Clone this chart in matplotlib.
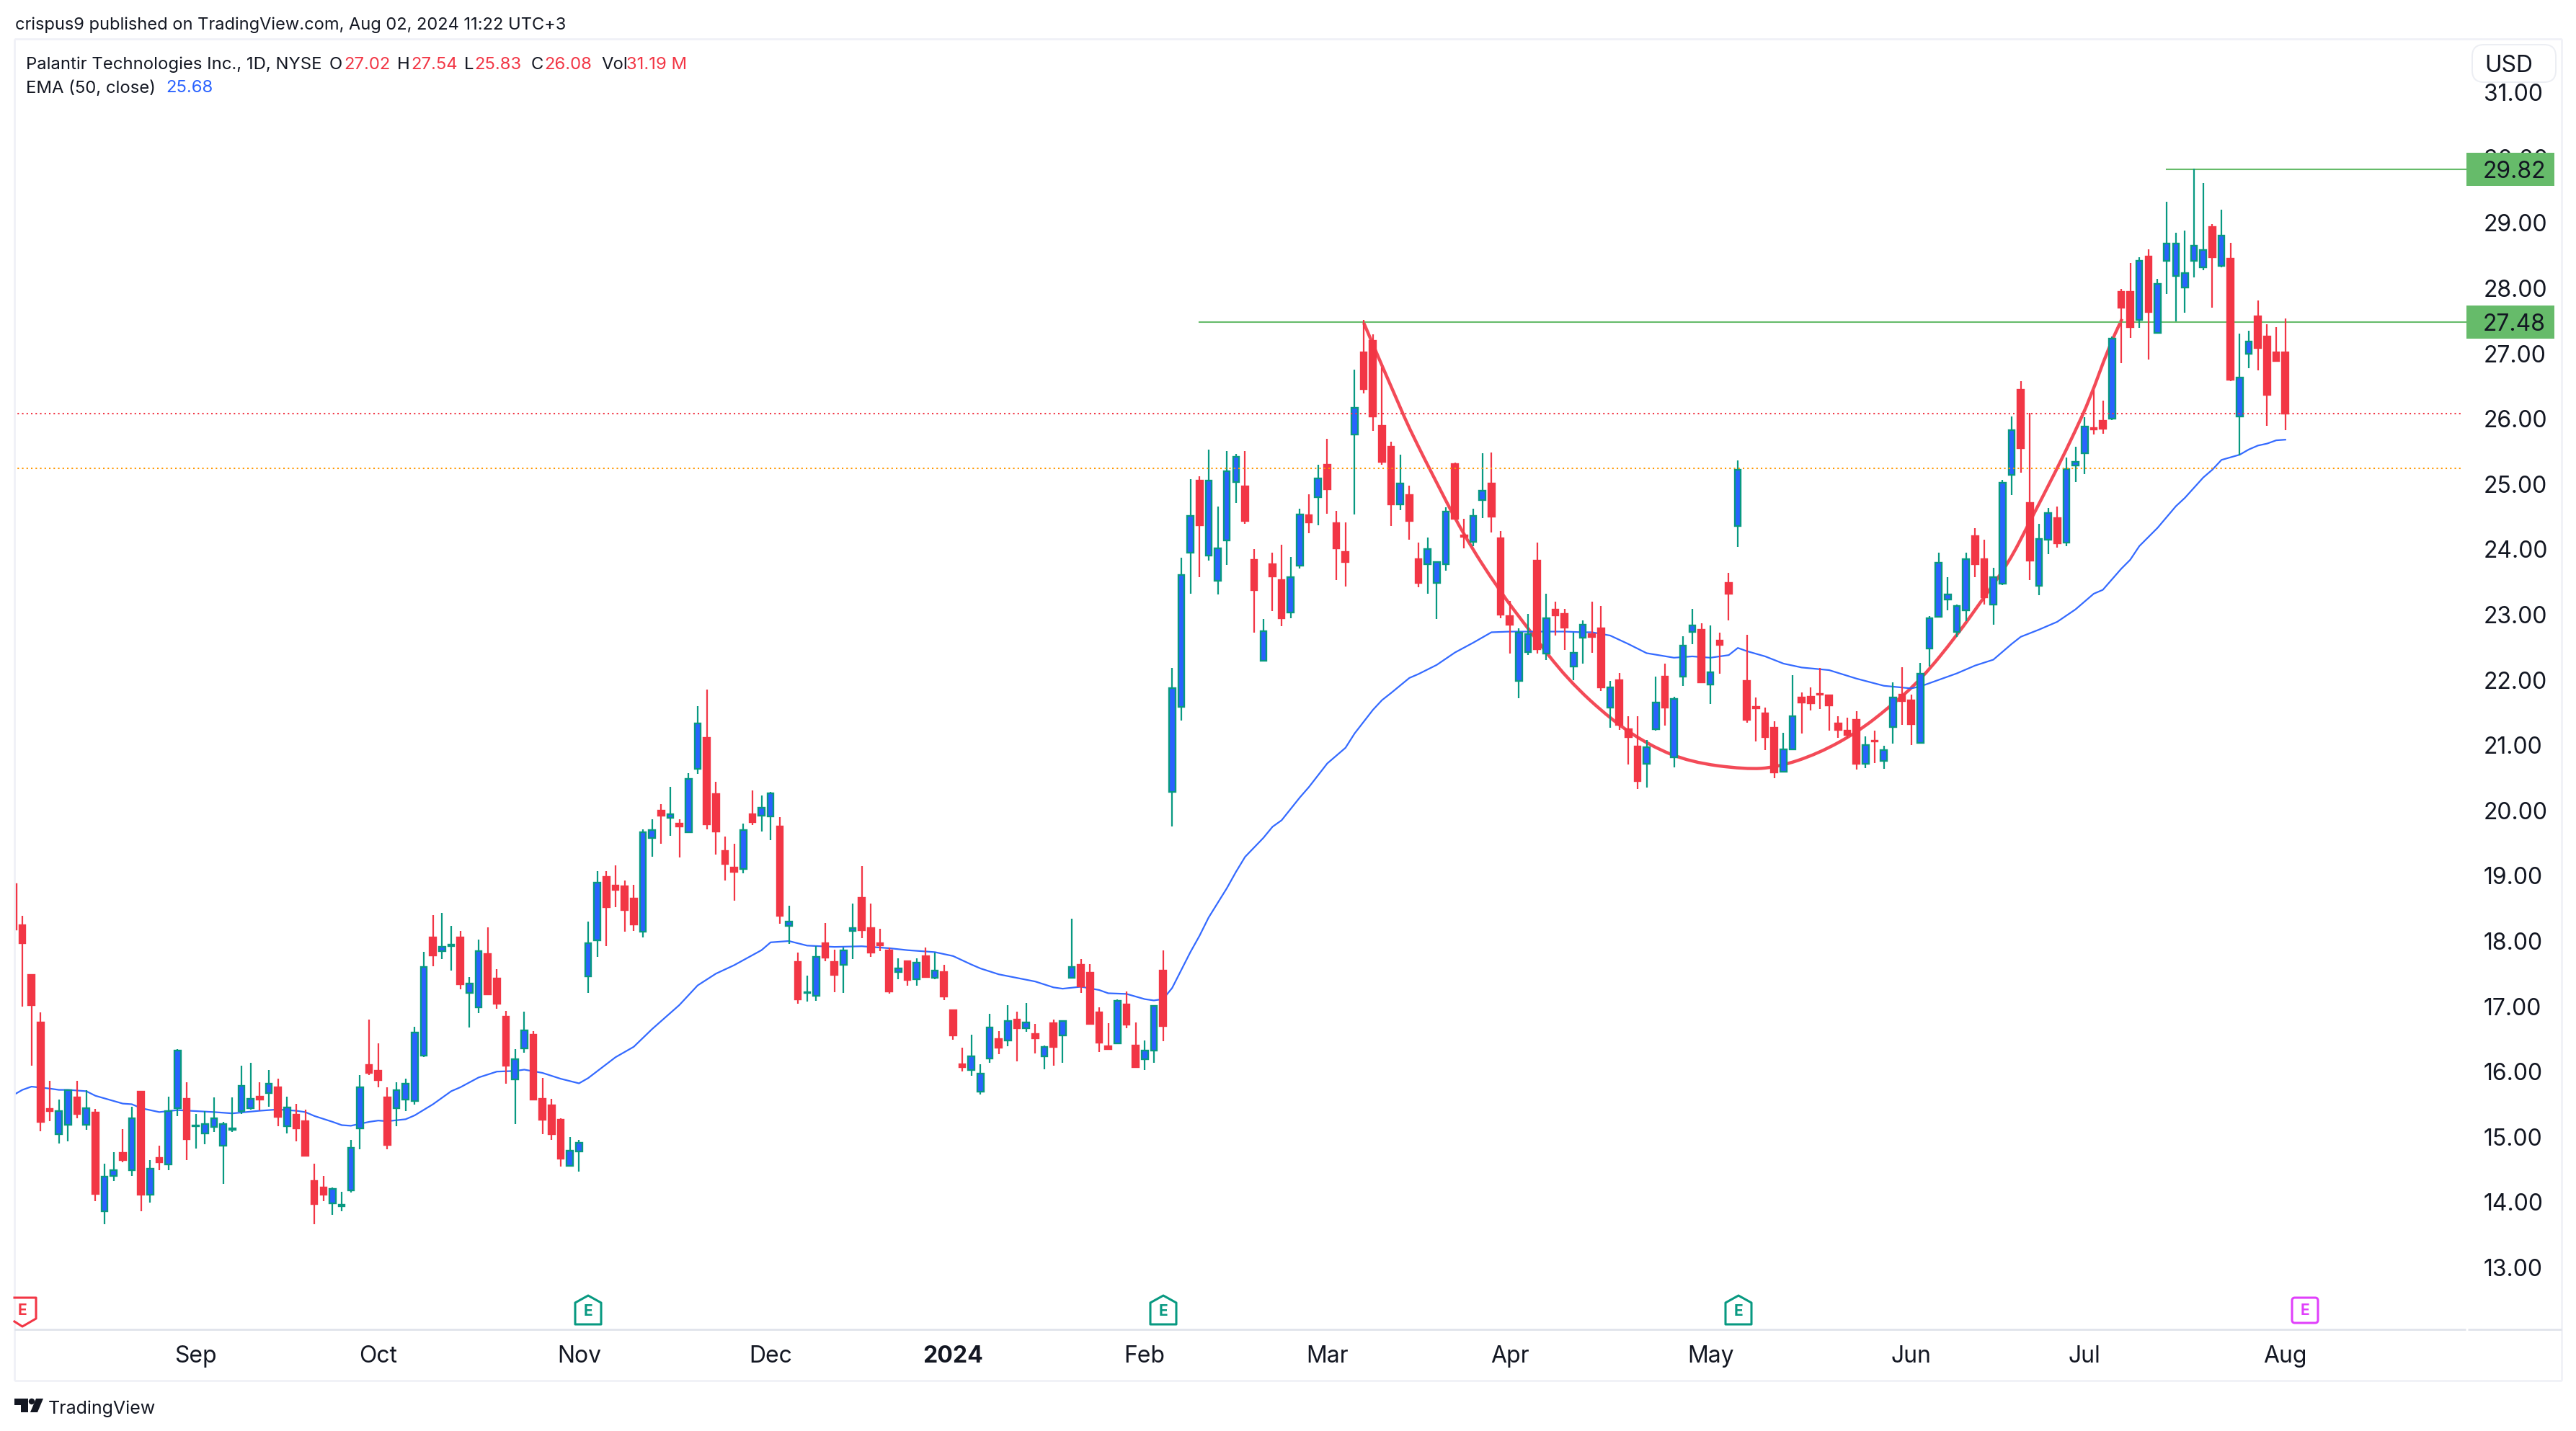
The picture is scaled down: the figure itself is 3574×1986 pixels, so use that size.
import numpy as np
import matplotlib
matplotlib.use('Agg')
import matplotlib.pyplot as plt
from matplotlib.patches import FancyBboxPatch, Polygon, Rectangle, Circle, PathPatch
from matplotlib.path import Path

plt.rcParams['font.family'] = ['Inter', 'DejaVu Sans']

# daily candles
opens = [18.87,18.24,17.48,16.75,15.43,15.04,15.18,15.60,15.19,15.37,
         13.86,14.40,14.75,14.49,15.69,14.12,14.68,14.58,15.44,15.58,
         15.16,15.05,15.15,14.86,15.11,15.39,15.44,15.62,15.67,15.76,
         15.16,15.34,15.24,14.32,14.22,13.98,13.94,14.18,15.13,16.10,
         16.01,15.60,15.44,15.57,15.55,16.25,18.05,17.85,17.92,18.05,
         17.20,16.99,17.80,17.43,16.84,15.88,16.36,16.57,15.58,15.48,
         15.26,14.56,14.78,17.46,18.01,18.98,18.85,18.84,18.65,18.14,
         19.58,20.00,19.89,19.80,19.67,20.64,21.11,20.25,19.38,19.13,
         19.10,19.94,19.92,19.91,19.75,18.23,17.68,17.20,17.16,17.97,
         17.68,17.64,18.16,18.66,18.20,17.97,17.86,17.52,17.69,17.42,
         17.77,17.44,17.52,16.94,16.11,16.02,15.69,16.20,16.50,16.48,
         16.80,16.66,16.58,16.23,16.74,16.55,17.44,17.64,17.51,16.91,
         16.39,16.43,17.03,16.40,16.19,16.32,17.55,20.29,21.59,23.95,
         25.05,23.91,23.52,24.14,25.03,24.97,23.84,22.29,23.77,23.53,
         23.03,23.75,24.52,24.80,25.30,24.40,23.96,25.76,27.02,27.19,
         25.89,25.57,24.69,24.83,23.85,23.77,23.49,23.77,25.31,24.21,
         24.12,24.76,25.01,24.17,22.98,21.98,22.43,23.83,22.40,23.08,
         23.01,22.21,22.65,22.70,22.79,21.58,22.00,21.24,20.98,20.71,
         21.24,22.05,20.82,22.05,22.74,22.77,21.93,22.60,23.49,24.36,
         21.98,21.59,21.49,21.27,20.59,20.94,21.73,21.74,21.79,21.76,
         21.33,21.22,21.39,20.71,21.07,20.76,21.28,21.78,21.69,21.04,
         22.48,22.97,23.23,22.74,23.07,24.20,23.85,23.15,23.47,25.14,
         26.44,24.71,23.44,24.15,24.48,24.10,25.28,25.47,25.86,25.97,
         26.00,27.94,27.94,27.51,28.49,27.32,28.42,28.19,28.01,28.42,
         28.32,28.94,28.34,28.45,26.04,27.00,27.57,27.26,27.02,27.02]
highs = [18.87,18.39,17.48,16.91,15.86,15.57,15.72,15.86,15.72,15.43,
         14.59,14.77,15.12,15.46,15.69,14.64,14.87,15.62,16.34,15.84,
         15.35,15.40,15.61,15.23,15.60,16.09,16.14,15.84,16.02,15.89,
         15.62,15.51,15.42,14.59,14.40,14.23,14.16,14.95,15.95,16.80,
         16.43,15.76,15.84,15.89,16.69,17.83,18.40,18.43,18.23,18.16,
         17.45,18.02,18.21,17.57,16.93,16.34,16.92,16.62,15.90,15.58,
         15.28,15.00,14.95,18.30,19.07,19.07,19.16,18.93,18.86,19.71,
         19.87,20.10,20.36,19.87,20.57,21.60,21.85,20.44,19.60,19.49,
         19.80,20.31,20.23,20.28,19.90,18.54,17.82,17.47,17.92,18.28,
         17.87,17.90,18.57,19.15,18.57,18.19,17.90,17.73,17.69,17.73,
         17.90,17.82,17.64,16.94,16.37,16.57,16.11,16.88,16.62,17.02,
         16.92,17.05,16.73,16.40,16.80,16.78,18.34,17.72,17.65,16.99,
         16.74,17.11,17.23,16.75,16.48,17.01,17.86,22.18,23.87,25.07,
         25.12,25.53,24.66,25.51,25.46,25.51,24.00,22.93,23.95,24.07,
         23.88,24.62,24.84,25.30,25.69,24.59,24.41,26.75,27.51,27.29,
         26.79,25.65,25.45,24.98,24.10,24.18,23.82,24.65,25.33,24.47,
         24.62,25.47,25.48,24.28,23.21,22.79,23.01,24.10,23.32,23.20,
         23.09,22.72,22.91,23.20,23.13,21.98,22.11,21.44,21.44,21.08,
         22.05,22.25,21.74,22.67,23.09,22.87,22.83,22.72,23.64,25.36,
         22.69,21.73,21.58,21.37,21.19,22.07,21.81,21.88,22.18,21.76,
         21.44,21.42,21.52,21.14,21.22,20.99,21.96,22.19,21.78,22.26,
         22.98,23.95,23.57,23.16,23.95,24.33,24.15,23.72,25.06,26.04,
         26.58,26.09,24.39,24.63,24.66,25.41,25.57,26.02,26.44,26.28,
         27.26,27.99,28.39,28.48,28.60,28.14,29.32,28.85,28.88,29.83,
         29.61,28.98,29.20,28.69,27.30,27.35,27.81,27.45,27.40,27.54]
lows = [18.18,17.00,16.09,15.09,15.24,14.90,14.93,15.28,15.11,14.02,
        13.66,14.32,14.61,14.40,13.86,13.99,14.49,14.49,15.32,14.64,
        14.82,14.89,15.07,14.28,15.08,15.35,15.42,15.41,15.46,15.16,
        15.05,14.93,14.71,13.66,14.02,13.81,13.86,14.15,14.81,15.95,
        15.76,14.81,15.16,15.40,15.50,16.22,17.61,17.72,17.55,17.26,
        16.67,16.90,17.18,16.96,15.81,15.20,16.29,15.57,15.04,14.95,
        14.55,14.54,14.47,17.21,17.76,17.92,18.52,18.14,18.16,18.05,
        19.29,19.49,19.61,19.28,19.66,20.56,19.71,19.33,18.93,18.62,
        19.04,19.78,19.68,19.55,18.26,17.96,17.04,17.07,17.08,17.69,
        17.22,17.20,17.72,18.04,17.76,17.84,17.19,17.42,17.32,17.32,
        17.44,17.42,17.10,16.49,16.00,15.94,15.65,16.13,16.27,16.39,
        16.16,16.61,16.28,16.04,16.09,16.14,17.43,17.20,16.72,16.30,
        16.34,16.42,16.66,16.06,16.02,16.14,16.47,19.76,21.38,23.32,
        23.57,23.83,23.31,23.76,24.71,24.39,22.72,22.29,23.05,22.82,
        22.95,23.71,24.25,24.37,24.54,23.53,23.43,24.53,26.39,25.82,
        25.30,24.36,24.60,24.15,23.42,23.32,22.93,23.67,24.47,24.02,
        24.05,24.48,24.26,22.95,22.40,21.72,22.38,22.40,22.31,22.68,
        22.46,22.00,22.25,22.41,21.83,21.27,21.23,20.70,20.33,20.35,
        21.22,21.30,20.66,21.91,22.55,21.95,21.63,22.10,22.91,24.04,
        21.34,21.06,20.93,20.50,20.58,20.93,21.18,21.53,21.55,21.22,
        21.11,21.10,20.63,20.65,20.73,20.64,21.02,21.31,21.00,21.04,
        22.21,22.97,23.07,22.66,22.90,23.57,23.15,22.84,23.45,24.83,
        25.17,23.53,23.30,23.93,24.03,24.05,25.03,25.15,25.76,25.77,
        25.98,26.85,27.24,27.39,26.91,27.30,27.91,27.49,27.62,28.17,
        28.28,27.70,28.32,26.58,25.44,26.77,26.74,25.89,26.89,25.83]
closes = [18.18,17.97,17.02,15.23,15.39,15.40,15.71,15.35,15.44,14.13,
          14.39,14.49,14.64,15.29,14.12,14.51,14.61,15.39,16.32,14.96,
          15.17,15.20,15.29,15.20,15.13,15.78,15.58,15.57,15.82,15.31,
          15.45,15.13,14.71,13.97,14.11,14.20,13.96,14.83,15.76,15.98,
          15.87,14.88,15.72,15.81,16.60,17.60,17.78,17.91,17.95,17.34,
          17.35,17.84,17.18,17.04,16.09,16.19,16.63,15.57,15.26,15.04,
          14.67,14.79,14.91,17.97,18.89,18.52,18.78,18.48,18.25,19.67,
          19.70,19.92,19.94,19.76,20.48,21.33,19.79,19.68,19.18,19.06,
          19.70,19.82,20.04,20.26,18.39,18.30,17.11,17.22,17.76,17.75,
          17.48,17.86,18.20,18.17,17.82,17.93,17.23,17.58,17.40,17.67,
          17.45,17.55,17.15,16.55,16.07,16.23,15.97,16.67,16.37,16.78,
          16.66,16.75,16.51,16.38,16.38,16.78,17.60,17.31,16.73,16.44,
          16.34,17.08,16.72,16.07,16.32,17.01,16.70,21.87,23.61,24.51,
          24.37,25.05,24.02,25.20,25.42,24.43,23.38,22.75,23.59,22.95,
          23.57,24.53,24.41,25.09,24.92,24.02,23.81,26.17,26.45,26.04,
          25.34,24.69,25.01,24.43,23.49,24.00,23.81,24.58,24.47,24.19,
          24.51,24.90,24.50,23.00,22.85,22.72,22.70,22.47,22.95,22.99,
          22.80,22.41,22.85,22.66,21.89,21.88,21.31,21.12,20.45,20.97,
          21.65,21.58,21.71,22.52,22.83,21.96,22.12,22.54,23.32,25.22,
          21.39,21.57,21.12,20.58,20.94,21.44,21.65,21.64,21.77,21.61,
          21.23,21.16,20.71,21.00,21.06,20.93,21.73,21.67,21.32,22.09,
          22.95,23.79,23.31,23.13,23.85,23.77,23.27,23.57,25.02,25.83,
          25.55,23.83,24.16,24.56,24.09,25.23,25.34,25.88,25.84,25.85,
          27.23,27.70,27.40,28.42,27.64,28.07,28.68,28.68,28.23,28.65,
          28.59,28.47,28.81,26.60,26.63,27.18,27.08,26.37,26.89,26.08]

# EMA(50) line, bar index and price
ema_idx = [0,1,2,4,5,6,8,9,12,13,14,16,18,22,24,27,29,31,32,33,35,36,37,39,40,41,43,44,46,48,49,
           51,53,55,56,58,60,62,63,66,68,70,73,75,77,79,82,83,85,87,90,93,96,98,101,103,105,106,108,
           112,114,115,117,119,120,122,124,125,126,127,129,130,131,133,134,135,137,138,139,141,142,
           144,146,147,149,150,151,153,154,156,158,160,162,164,170,172,173,175,177,179,182,184,186,
           188,189,190,192,194,196,199,202,205,208,209,211,213,215,217,218,219,220,222,224,226,228,
           229,231,232,233,235,237,238,240,241,242,244,245,246,247,248,249]
ema_val = [15.64,15.72,15.77,15.74,15.72,15.72,15.70,15.63,15.51,15.50,15.44,15.38,15.41,15.38,15.36,
           15.40,15.42,15.40,15.38,15.32,15.23,15.18,15.17,15.23,15.25,15.24,15.27,15.33,15.50,15.70,
           15.76,15.91,16.00,16.01,16.03,15.98,15.89,15.82,15.90,16.22,16.38,16.65,17.02,17.32,17.50,
           17.63,17.86,17.98,18.00,17.93,17.91,17.92,17.89,17.86,17.83,17.77,17.64,17.58,17.49,17.38,
           17.29,17.27,17.30,17.25,17.20,17.19,17.11,17.09,17.11,17.28,17.83,18.08,18.36,18.81,19.06,
           19.29,19.58,19.75,19.85,20.20,20.36,20.72,20.96,21.18,21.54,21.69,21.80,22.03,22.09,22.23,
           22.42,22.57,22.73,22.74,22.74,22.73,22.73,22.68,22.55,22.41,22.34,22.36,22.34,22.38,22.49,
           22.44,22.36,22.25,22.19,22.15,22.02,21.91,21.87,21.90,22.00,22.10,22.22,22.31,22.43,22.55,
           22.66,22.77,22.89,23.08,23.32,23.38,23.70,23.84,24.05,24.33,24.66,24.79,25.10,25.22,25.37,
           25.45,25.53,25.59,25.62,25.67,25.68]

# hand drawn cup on the chart
cup_idx = [148,152.2,154,155.3,158.9,162.8,166.2,170.3,175.2,179.4,183.8,189.8,193.3,197.8,202.1,
           205.6,209.1,213,215.8,218.7,220.8,224,225.9,227.6,229.6,231.1]
cup_val = [27.47,26.09,25.57,25.21,24.23,23.38,22.75,22.01,21.38,20.99,20.74,20.63,20.66,20.87,21.20,
           21.58,22.01,22.68,23.23,23.80,24.37,25.24,25.79,26.31,27.08,27.53]

level_low = 27.48
level_high = 29.82
last_close = 26.08
prev_close = 25.24

month_idx = [20,40,62,83,103,124,144,164,186,208,227,249]
month_labels = ['Sep','Oct','Nov','Dec','2024','Feb','Mar','Apr','May','Jun','Jul','Aug']
price_ticks = list(range(13, 32))

W, H = 3574, 1986
TEXT = '#131722'
RED = '#f23645'
BLUE = '#2962ff'
GREEN = '#089981'
LEVEL = '#66bb6a'
BORDER = '#f0f1f7'

fig = plt.figure(figsize=(W/100, H/100), dpi=100, facecolor='white')

def px_axes(x0, y0, x1, y1):
    return [x0/W, 1-y1/H, (x1-x0)/W, (y1-y0)/H]

# price pane, bar i sits at 18.4 + 12.66*i pixels
ax = fig.add_axes(px_axes(20, 54, 3422, 1845))
ax.set_xlim((20-18.4)/12.66, (3422-18.4)/12.66)
ax.set_ylim(13+(1759-1845)/90.6, 13+(1759-54)/90.6)
for s in ax.spines.values():
    s.set_visible(False)

ax.yaxis.tick_right()
ax.set_yticks(price_ticks)
ax.set_yticklabels(['%.2f' % t for t in price_ticks], fontsize=23, color=TEXT)
ax.tick_params(axis='y', length=0, pad=17)
ax.set_xticks(month_idx)
ax.set_xticklabels(month_labels, fontsize=23, color=TEXT)
ax.tick_params(axis='x', length=0, pad=16)
for lab in ax.get_xticklabels():
    if lab.get_text() == '2024':
        lab.set_fontweight('bold')

# smooth the cup through its read points, midpoints stay on the curve
verts = [(cup_idx[0], cup_val[0])]
codes = [Path.MOVETO]
for k in range(1, len(cup_idx)-1):
    verts.append((cup_idx[k], cup_val[k]))
    verts.append(((cup_idx[k]+cup_idx[k+1])/2, (cup_val[k]+cup_val[k+1])/2))
    codes += [Path.CURVE3, Path.CURVE3]
verts.append((cup_idx[-1], cup_val[-1]))
codes.append(Path.LINETO)
ax.add_patch(PathPatch(Path(verts, codes), fill=False, edgecolor=RED, lw=3.2, alpha=0.9, zorder=1))

ax.plot(ema_idx, ema_val, color=BLUE, lw=1.6, alpha=0.95, zorder=1.5)
ax.plot([130, 269], [level_low]*2, color=LEVEL, lw=1.5, zorder=1)
ax.plot([236, 269], [level_high]*2, color=LEVEL, lw=1.5, zorder=1)

# candles
for i in range(len(opens)):
    up = closes[i] >= opens[i]
    edge = GREEN if up else RED
    fill = BLUE if up else RED
    ax.vlines(i, lows[i], highs[i], color=edge, lw=1.6, zorder=2)
    bottom = min(opens[i], closes[i])
    ax.add_patch(Rectangle((i-0.34, bottom), 0.68, abs(closes[i]-opens[i]),
                           facecolor=fill, edgecolor=edge, lw=1.7, zorder=3))

ax.plot([0, 268.5], [last_close]*2, color=RED, lw=1.5, ls=(0, (1, 2)), zorder=4)
ax.plot([0, 268.5], [prev_close]*2, color='#ff9800', lw=1.5, ls=(0, (1, 2)), zorder=4)

# price tags on the scale
tr = ax.get_yaxis_transform()
tag_w = (3544-3422)/(3422-20)
for lev in [level_high, level_low]:
    ax.add_patch(Rectangle((1.0, lev-0.255), tag_w, 0.51, transform=tr, clip_on=False,
                           facecolor=LEVEL, edgecolor='none', zorder=6))
    ax.text(1+(3445-3422)/(3422-20), lev, '%.2f' % lev, transform=tr, fontsize=23, color=TEXT,
            ha='left', va='center_baseline', zorder=7, clip_on=False)

# page furniture in pixel coordinates
ov = fig.add_axes([0, 0, 1, 1], zorder=10)
ov.set_xlim(0, W)
ov.set_ylim(H, 0)
ov.axis('off')
ov.patch.set_alpha(0)

for xs, ys, col in [([20, 20], [54, 1916], BORDER), ([3554, 3554], [54, 1916], BORDER),
                    ([20, 3554], [54, 54], BORDER), ([20, 3554], [1916, 1916], BORDER),
                    ([20, 3421], [1845, 1845], '#e0e3eb'), ([3424, 3554], [1845, 1845], '#e0e3eb')]:
    ov.plot(xs, ys, color=col, lw=2, solid_capstyle='butt')

ov.add_patch(FancyBboxPatch((3436, 68), 104, 40, boxstyle='round,pad=6,rounding_size=16',
                            facecolor='white', edgecolor='#eceef3', lw=1.4))
ov.text(3481, 88, 'USD', fontsize=23, color=TEXT, ha='center', va='center_baseline')

ov.text(21, 32, 'crispus9 published on TradingView.com, Aug 02, 2024 11:22 UTC+3',
        fontsize=17, color=TEXT, va='center_baseline')
ov.text(36, 87, 'Palantir Technologies Inc., 1D, NYSE', fontsize=17.2, color=TEXT, va='center_baseline')
for x, s, c in [(457, 'O', TEXT), (477, '27.02', RED), (551, 'H', TEXT), (570, '27.54', RED),
                (644, 'L', TEXT), (658, '25.83', RED), (737, 'C', TEXT), (755, '26.08', RED),
                (834, 'Vol', TEXT), (869, '31.19 M', RED)]:
    ov.text(x, 87, s, fontsize=17.2, color=c, va='center_baseline')
ov.text(36, 120, 'EMA (50, close)', fontsize=17.2, color=TEXT, va='center_baseline')
ov.text(230, 120, '25.68', fontsize=17.2, color=BLUE, va='center_baseline')

# earnings markers
ov.plot([20, 50, 50, 31, 20], [1801, 1801, 1830, 1841, 1834], color=RED, lw=2.2)
ov.text(31, 1819, 'E', fontsize=15, color=RED, fontweight='bold', ha='center', va='center')
for cx in [816, 1614, 2412]:
    ov.add_patch(Polygon([(cx, 1798), (cx+18, 1808), (cx+18, 1838), (cx-18, 1838), (cx-18, 1808)],
                         closed=True, fill=False, edgecolor=GREEN, lw=2.2, joinstyle='round'))
    ov.text(cx, 1820, 'E', fontsize=15, color=GREEN, fontweight='bold', ha='center', va='center')
ov.add_patch(FancyBboxPatch((3182, 1803), 32, 31, boxstyle='round,pad=2,rounding_size=4',
                            fill=False, edgecolor='#e040fb', lw=2.2))
ov.text(3198, 1819, 'E', fontsize=15, color='#e040fb', fontweight='bold', ha='center', va='center')

# TradingView logo
ov.add_patch(Polygon([(20, 1941), (39, 1941), (39, 1960), (29, 1960), (29, 1950), (20, 1950)],
                     closed=True, facecolor=TEXT, edgecolor='none'))
ov.add_patch(Circle((44, 1945), 4.2, facecolor=TEXT, edgecolor='none'))
ov.add_patch(Polygon([(50, 1941), (60, 1941), (52, 1960), (42, 1960)], closed=True,
                     facecolor=TEXT, edgecolor='none'))
ov.text(67, 1953, 'TradingView', fontsize=18, color=TEXT, va='center_baseline')

fig.savefig('out.png', dpi=100, facecolor='white')
